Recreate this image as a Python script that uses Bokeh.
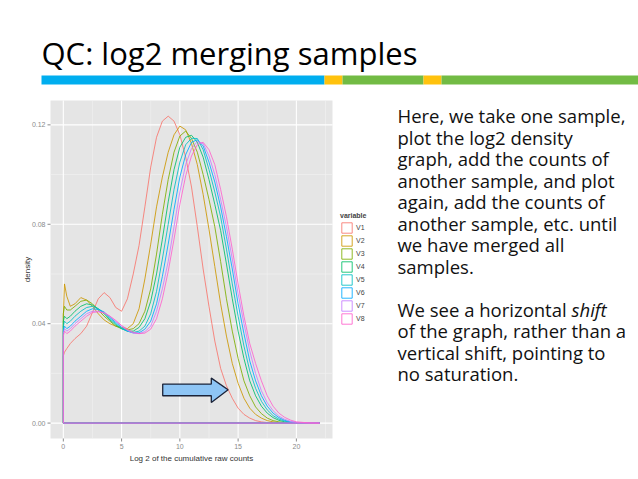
import math
from bokeh.plotting import figure
from bokeh.models import Range1d, Legend, LegendItem, ColumnDataSource
from bokeh.core.properties import value
from bokeh.embed import file_html
from bokeh.resources import INLINE

# ---------------- data ----------------
series_names = ["V1", "V2", "V3", "V4", "V5", "V6", "V7", "V8"]
series_colors = ["#F8766D", "#CD9600", "#7CAE00", "#00BE67", "#00BFC4", "#00A9FF", "#C77CFF", "#FF61CC"]

xg = [0, 0.1, 0.3, 0.6, 1, 1.5, 2, 2.5, 3, 3.5, 4, 4.5, 5, 5.5, 6, 6.5, 7, 7.5, 8, 8.5,
      9, 9.5, 10, 10.5, 11, 11.5, 12, 12.5, 13, 13.5, 14, 14.5, 15, 15.5, 16, 16.5, 17, 17.5,
      18, 18.5, 19, 19.5, 20, 21, 22]

V1 = [0.027, 0.0285, 0.030, 0.032, 0.034, 0.036, 0.039, 0.0445, 0.050, 0.0525, 0.0505, 0.0465,
      0.045, 0.050, 0.060, 0.0715, 0.087, 0.103, 0.115, 0.1215, 0.1235, 0.1215, 0.116, 0.107,
      0.095, 0.079, 0.062, 0.047, 0.033, 0.022, 0.015, 0.010, 0.006, 0.0035, 0.002, 0.001,
      0.0005, 0.0002, 0.0001, 0, 0, 0, 0, 0, 0]
V2 = [0.043, 0.056, 0.051, 0.047, 0.048, 0.0505, 0.0495, 0.047, 0.044, 0.0415, 0.040, 0.039,
      0.0385, 0.038, 0.040, 0.046, 0.058, 0.072, 0.087, 0.099, 0.109, 0.116, 0.1195, 0.118,
      0.1125, 0.104, 0.092, 0.078, 0.063, 0.048, 0.035, 0.024, 0.016, 0.010, 0.006, 0.0035,
      0.002, 0.001, 0.0005, 0.0002, 0.0001, 0, 0, 0, 0]
V3 = [0.044, 0.047, 0.0455, 0.0455, 0.047, 0.049, 0.0495, 0.048, 0.0455, 0.043, 0.041, 0.039,
      0.038, 0.0375, 0.038, 0.040, 0.045, 0.054, 0.068, 0.084, 0.098, 0.109, 0.1155, 0.1175,
      0.1145, 0.109, 0.100, 0.090, 0.079, 0.065, 0.050, 0.037, 0.026, 0.017, 0.011, 0.0065,
      0.0038, 0.002, 0.001, 0.0005, 0.0002, 0.0001, 0, 0, 0]
V4 = [0.041, 0.043, 0.042, 0.043, 0.045, 0.047, 0.048, 0.0475, 0.046, 0.044, 0.0415, 0.0395,
      0.038, 0.037, 0.037, 0.0385, 0.042, 0.049, 0.060, 0.074, 0.089, 0.102, 0.111, 0.115,
      0.1158, 0.113, 0.107, 0.098, 0.088, 0.0775, 0.064, 0.050, 0.037, 0.026, 0.017, 0.011,
      0.0068, 0.004, 0.0022, 0.0011, 0.0005, 0.0002, 0.0001, 0, 0]
V5 = [0.039, 0.041, 0.040, 0.041, 0.043, 0.045, 0.0465, 0.047, 0.046, 0.0445, 0.042, 0.040,
      0.038, 0.037, 0.0365, 0.037, 0.039, 0.044, 0.053, 0.066, 0.080, 0.094, 0.105, 0.112,
      0.1146, 0.1145, 0.110, 0.102, 0.093, 0.083, 0.070, 0.056, 0.043, 0.031, 0.021, 0.014,
      0.0088, 0.0053, 0.003, 0.0016, 0.0008, 0.0003, 0.0001, 0, 0]
V6 = [0.037, 0.039, 0.038, 0.039, 0.041, 0.043, 0.045, 0.046, 0.0457, 0.0447, 0.0425, 0.0405,
      0.0385, 0.037, 0.0363, 0.0363, 0.0378, 0.041, 0.048, 0.059, 0.072, 0.086, 0.099, 0.108,
      0.113, 0.114, 0.1115, 0.105, 0.097, 0.087, 0.075, 0.062, 0.048, 0.036, 0.025, 0.017,
      0.011, 0.0068, 0.004, 0.0022, 0.0011, 0.0005, 0.0002, 0, 0]
V7 = [0.036, 0.038, 0.037, 0.038, 0.040, 0.042, 0.044, 0.045, 0.045, 0.0445, 0.043, 0.041,
      0.039, 0.0373, 0.0362, 0.036, 0.0368, 0.039, 0.045, 0.054, 0.065, 0.079, 0.093, 0.104,
      0.1105, 0.1133, 0.1125, 0.1075, 0.100, 0.090, 0.079, 0.066, 0.052, 0.040, 0.029, 0.020,
      0.013, 0.0082, 0.005, 0.0028, 0.0015, 0.0007, 0.0003, 0.0001, 0]
V8 = [0.035, 0.037, 0.036, 0.037, 0.039, 0.041, 0.043, 0.0445, 0.0448, 0.0443, 0.043, 0.0413,
      0.0393, 0.0377, 0.0365, 0.036, 0.0362, 0.0378, 0.042, 0.050, 0.061, 0.074, 0.088, 0.0995,
      0.1075, 0.112, 0.113, 0.110, 0.104, 0.094, 0.083, 0.070, 0.056, 0.043, 0.032, 0.024,
      0.017, 0.011, 0.0068, 0.004, 0.0023, 0.0012, 0.0005, 0.0001, 0]
series_values = [V1, V2, V3, V4, V5, V6, V7, V8]

x_ticks = [0, 5, 10, 15, 20]
x_tick_labels = ["0", "5", "10", "15", "20"]
x_minor = [2.5, 7.5, 12.5, 17.5, 22.5]
y_ticks = [0.0, 0.04, 0.08, 0.12]
y_tick_labels = ["0.00", "0.04", "0.08", "0.12"]
y_minor = [0.02, 0.06, 0.10]
x_label = "Log 2 of the cumulative raw counts"
y_label = "density"

title_text = "QC: log2 merging samples"
body_lines = [
    "Here, we take one sample,",
    "plot the log2 density",
    "graph, add the counts of",
    "another sample, and plot",
    "again, add the counts of",
    "another sample, etc. until",
    "we have merged all",
    "samples.",
    "",
    "We see a horizontal",
    "of the graph, rather than a",
    "vertical shift, pointing to",
    "no saturation.",
]
italic_word = "shift"
italic_line = 9

# decorative block arrow (chart data space)
arrow_x = [8.53, 12.7, 12.7, 14.14, 12.7, 12.7, 8.53]
arrow_y = [0.0157, 0.0157, 0.0181, 0.0134, 0.0083, 0.011, 0.011]

# slide accent bar segments (slide pixels)
bar_left = [41, 324, 342, 423, 441]
bar_right = [324, 342, 423, 441, 638]
bar_colors = ["#00AEEF", "#FFC20E", "#72BB44", "#FFC20E", "#72BB44"]

# ---------------- layout constants (slide pixels) ----------------
W, H = 638, 479
PL, PR, PT, PB = 50, 332, 100, 438          # ggplot panel box
XLIM = (-1.1, 23.1)
YLIM = (-0.0062, 0.1298)
kx = (XLIM[1] - XLIM[0]) / (PR - PL)
ky = (YLIM[1] - YLIM[0]) / (PB - PT)
BASE_FIX = 10   # alphabetic baseline correction of the svg text

p = figure(width=W, height=H, output_backend="svg", toolbar_location=None,
           x_range=Range1d(0, W), y_range=Range1d(H, 0), min_border=0)
p.extra_x_ranges = {"cx": Range1d(XLIM[0] - PL * kx, XLIM[1] + (W - PR) * kx)}
p.extra_y_ranges = {"cy": Range1d(YLIM[0] - (H - PB) * ky, YLIM[1] + PT * ky)}
p.axis.visible = False
p.grid.visible = False
p.outline_line_color = None
p.background_fill_color = "white"
p.border_fill_color = "white"

C = dict(x_range_name="cx", y_range_name="cy")
CXonly = dict(x_range_name="cx")
CYonly = dict(y_range_name="cy")

# panel
p.quad(left=[XLIM[0]], right=[XLIM[1]], bottom=[YLIM[0]], top=[YLIM[1]],
       fill_color="#E5E5E5", line_color=None, **C)
# grid
p.segment(x0=x_minor, x1=x_minor, y0=[YLIM[0]] * len(x_minor), y1=[YLIM[1]] * len(x_minor),
          line_color="#F2F2F2", line_width=0.6, **C)
p.segment(x0=[XLIM[0]] * len(y_minor), x1=[XLIM[1]] * len(y_minor), y0=y_minor, y1=y_minor,
          line_color="#F2F2F2", line_width=0.6, **C)
p.segment(x0=x_ticks, x1=x_ticks, y0=[YLIM[0]] * len(x_ticks), y1=[YLIM[1]] * len(x_ticks),
          line_color="white", line_width=1.1, **C)
p.segment(x0=[XLIM[0]] * len(y_ticks), x1=[XLIM[1]] * len(y_ticks), y0=y_ticks, y1=y_ticks,
          line_color="white", line_width=1.1, **C)

# ticks and tick labels
p.segment(x0=x_ticks, x1=x_ticks, y0=[PB] * len(x_ticks), y1=[PB + 3] * len(x_ticks),
          line_color="#8A8A8A", line_width=1, **CXonly)
p.text(x=x_ticks, y=[PB + 7.5] * len(x_ticks), text=x_tick_labels, text_font=value("Liberation Sans"),
       text_font_size=value("7px"), text_color="#8A8A8A", text_align="center",
       text_baseline="middle", **CXonly)
p.segment(x0=[PL - 3] * len(y_ticks), x1=[PL] * len(y_ticks), y0=y_ticks, y1=y_ticks,
          line_color="#8A8A8A", line_width=1, **CYonly)
p.text(x=[PL - 5] * len(y_ticks), y=y_ticks, text=y_tick_labels, text_font=value("Liberation Sans"),
       text_font_size=value("7px"), text_color="#8A8A8A", text_align="right",
       text_baseline="middle", **CYonly)
p.text(x=[(PL + PR) / 2], y=[PB + 20], text=[x_label], text_font=value("Liberation Sans"),
       text_font_size=value("8px"), text_color="#333333", text_align="center", text_baseline="middle")
p.text(x=[27], y=[(PT + PB) / 2], text=[y_label], text_font=value("Liberation Sans"),
       text_font_size=value("8px"), text_color="#333333", text_align="center",
       text_baseline="middle", angle=math.pi / 2)

# density curves (closed polygons like geom_density)
items = []
for name, col, vals in zip(series_names, series_colors, series_values):
    xs = [xg[0]] + xg
    ys = [0] + vals
    r = p.patch(xs, ys, fill_color=None, line_color=col, line_width=1.0, line_alpha=0.85, **C)
    items.append(LegendItem(label=name, renderers=[r]))

# arrow
p.patch(arrow_x, arrow_y, fill_color="#8EC5F5", line_color="#1B2338", line_width=1.3, **C)

legend = Legend(items=items, location=(340, 479 - 325), title="variable",
                title_text_font="Liberation Sans", title_text_font_size="7px",
                title_text_font_style="bold", title_standoff=2,
                label_text_font="Liberation Sans", label_text_font_size="7px",
                label_text_color="#444444", glyph_height=13, glyph_width=13,
                label_height=13, spacing=0, padding=0, margin=0, label_standoff=3,
                background_fill_alpha=0, border_line_color=None)
p.add_layout(legend)

# title + accent bars
p.text(x=[41], y=[62 - BASE_FIX], text=[title_text], text_font=value("Open Sans"),
       text_font_size=value("31px"), text_color="#000000", text_baseline="alphabetic")
p.quad(left=bar_left, right=bar_right, top=[75] * len(bar_left), bottom=[84] * len(bar_left),
       fill_color=bar_colors, line_color=None)

# body text
base0, step, text_x = 125 - BASE_FIX, 21.5, 397
rows = [(ln, base0 + i * step) for i, ln in enumerate(body_lines) if ln]
src = ColumnDataSource(dict(x=[text_x] * len(rows), y=[r[1] for r in rows], text=[r[0] for r in rows]))
p.text(x="x", y="y", text="text", source=src, text_font=value("Open Sans"),
       text_font_size=value("18.5px"), text_color="#111111", text_baseline="alphabetic")
p.text(x=[571], y=[base0 + italic_line * step], text=[italic_word], text_font=value("Open Sans"),
       text_font_size=value("18.5px"), text_font_style="italic", text_color="#111111",
       text_baseline="alphabetic")

open("out.html", "w").write(file_html(p, INLINE))
